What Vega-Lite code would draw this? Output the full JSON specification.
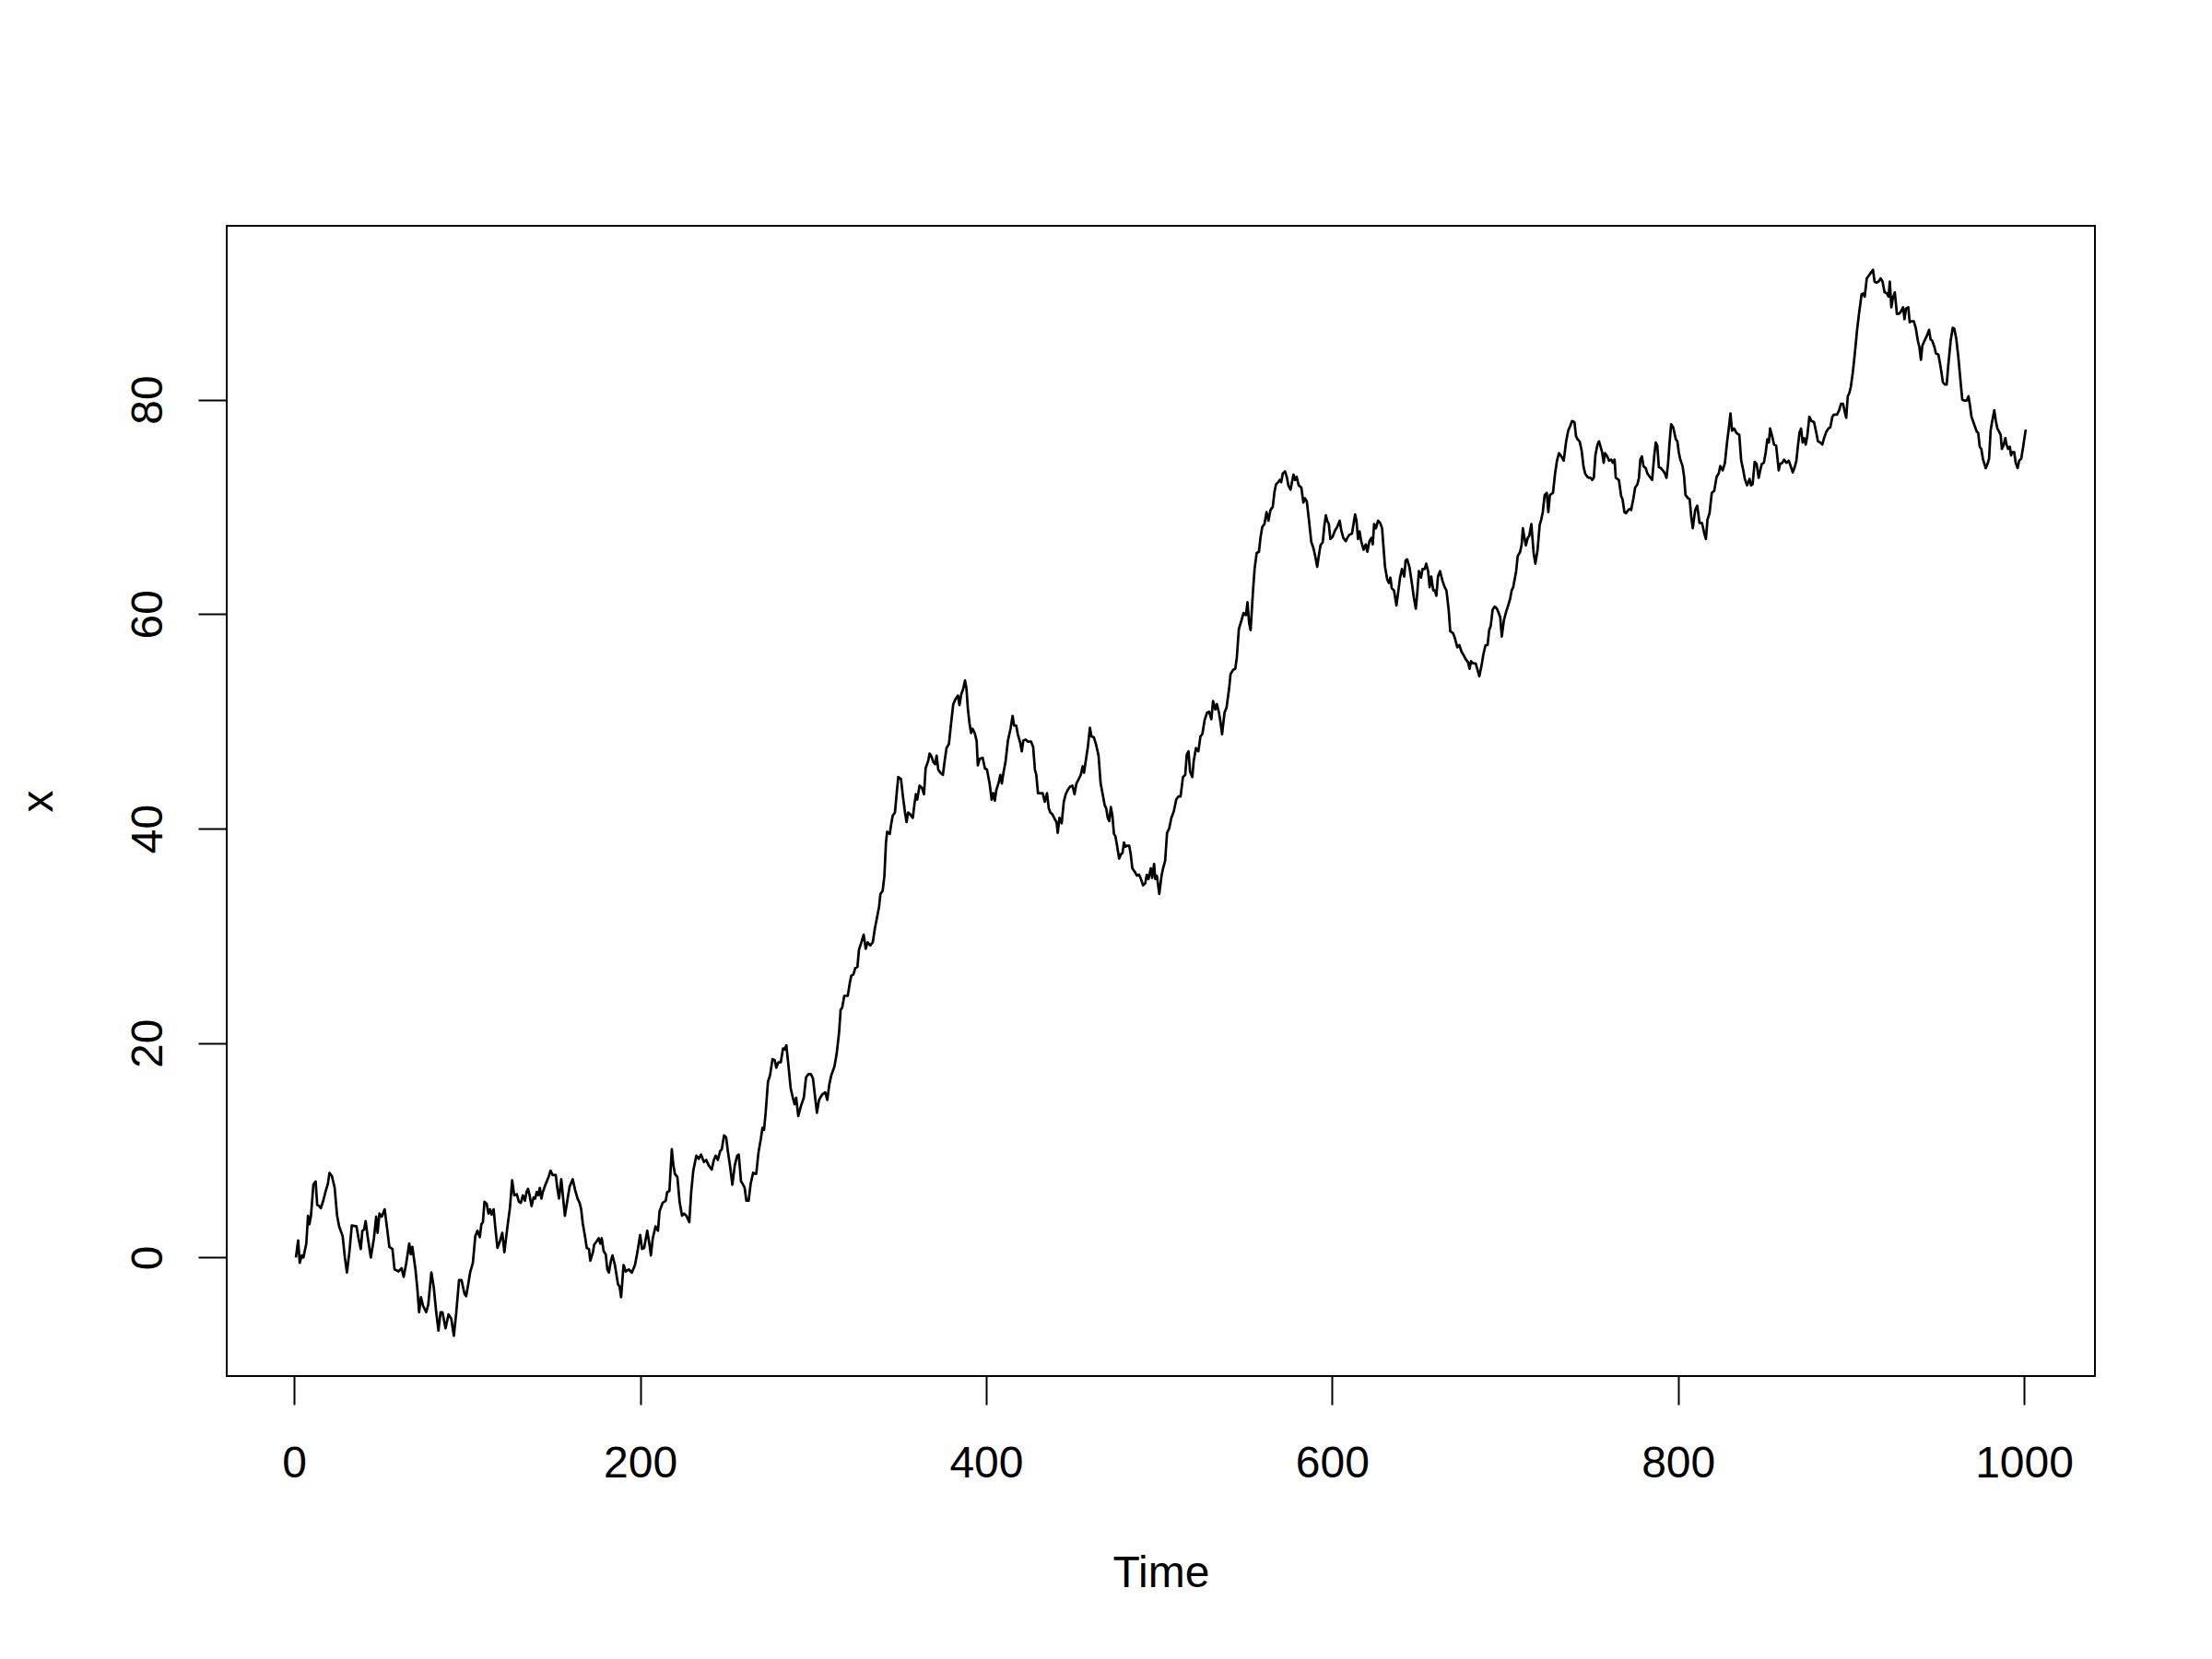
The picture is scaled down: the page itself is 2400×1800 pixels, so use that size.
{
  "$schema": "https://vega.github.io/schema/vega-lite/v6.json",
  "description": "Random walk time series x against Time, R base plot style",
  "width": 2027,
  "height": 1248,
  "autosize": {"type": "none"},
  "padding": {"left": 246, "top": 245, "right": 127, "bottom": 307},
  "background": "white",
  "config": {
    "font": "Liberation Sans",
    "view": {"stroke": "black", "strokeWidth": 2}
  },
  "data": {
    "values": [
      {"t":1,"x":0},{"t":2.3,"x":1.6},{"t":3.2,"x":-0.5},{"t":4.4,"x":0.2},{"t":5.3,"x":0.0},{"t":7,"x":1.3},{"t":8,"x":3.9},{"t":8.8,"x":3.1},{"t":9.7,"x":3.9},{"t":11.1,"x":6.8},
      {"t":12.4,"x":7.1},{"t":13.3,"x":4.9},{"t":14.5,"x":4.8},{"t":15.4,"x":4.6},{"t":16.8,"x":5.3},{"t":18.2,"x":6.2},{"t":19.5,"x":6.9},{"t":20.4,"x":7.9},{"t":21.8,"x":7.6},{"t":23.4,"x":6.5},
      {"t":24.8,"x":3.9},{"t":26,"x":2.9},{"t":28,"x":2.0},{"t":29.3,"x":0.0},{"t":30.5,"x":-1.4},{"t":31.9,"x":0.5},{"t":33.3,"x":3.0},{"t":36,"x":2.9},{"t":37.2,"x":1.8},{"t":38.5,"x":0.8},
      {"t":39.4,"x":2.5},{"t":40.4,"x":2.6},{"t":41.3,"x":3.4},{"t":42.6,"x":1.8},{"t":44.3,"x":0.0},{"t":46.1,"x":1.8},{"t":47.4,"x":3.8},{"t":48.2,"x":2.3},{"t":49.3,"x":4.1},{"t":50.6,"x":3.8},
      {"t":52.3,"x":4.5},{"t":53.8,"x":2.6},{"t":55,"x":1.0},{"t":56.8,"x":0.8},{"t":58,"x":-1.1},{"t":60.3,"x":-1.3},{"t":62.1,"x":-1.0},{"t":63.3,"x":-1.8},{"t":64.8,"x":-0.5},{"t":66.5,"x":1.3},
      {"t":67.4,"x":0.3},{"t":68.3,"x":1.0},{"t":70.1,"x":-1.1},{"t":71.3,"x":-3.1},{"t":72.2,"x":-5.1},{"t":73.3,"x":-3.7},{"t":74.5,"x":-4.5},{"t":76.3,"x":-5.1},{"t":77.5,"x":-4.4},{"t":79.3,"x":-1.4},
      {"t":80.7,"x":-2.8},{"t":82.1,"x":-5.1},{"t":83.4,"x":-6.8},{"t":84.6,"x":-5.1},{"t":85.7,"x":-5.1},{"t":87.5,"x":-6.6},{"t":89.2,"x":-5.3},{"t":90.8,"x":-5.7},{"t":92.3,"x":-7.3},{"t":93.7,"x":-5.1},
      {"t":95.3,"x":-2.1},{"t":96.7,"x":-2.1},{"t":98.5,"x":-3.4},{"t":99.4,"x":-3.6},{"t":100.6,"x":-2.5},{"t":101.7,"x":-1.4},{"t":103.3,"x":-0.5},{"t":104.7,"x":2.0},{"t":105.9,"x":2.5},{"t":107.3,"x":1.9},
      {"t":108.2,"x":3.1},{"t":109.1,"x":3.3},{"t":110,"x":5.2},{"t":111.3,"x":5.0},{"t":112.3,"x":4.1},{"t":113.2,"x":4.5},{"t":114.1,"x":4.0},{"t":115.3,"x":4.5},{"t":116.2,"x":2.9},{"t":117.5,"x":0.9},
      {"t":118.9,"x":1.5},{"t":120.3,"x":2.3},{"t":121.5,"x":0.5},{"t":123.3,"x":2.9},{"t":124.7,"x":4.6},{"t":126,"x":7.2},{"t":127.2,"x":5.8},{"t":128.7,"x":5.9},{"t":129.9,"x":5.2},{"t":131,"x":5.1},
      {"t":132.2,"x":5.8},{"t":133.4,"x":5.3},{"t":134.3,"x":6.1},{"t":135.2,"x":6.4},{"t":136.1,"x":5.8},{"t":137.2,"x":4.8},{"t":138.4,"x":5.6},{"t":139.3,"x":5.5},{"t":140.2,"x":6.1},{"t":141.1,"x":5.8},
      {"t":142,"x":6.5},{"t":142.9,"x":5.5},{"t":143.7,"x":6.1},{"t":145.5,"x":6.9},{"t":146.8,"x":7.4},{"t":148.2,"x":8.1},{"t":149.4,"x":7.7},{"t":151.2,"x":7.7},{"t":152.1,"x":6.5},{"t":153.1,"x":5.5},
      {"t":154.4,"x":7.3},{"t":155.3,"x":5.8},{"t":156.5,"x":3.9},{"t":157.9,"x":5.3},{"t":159.2,"x":6.6},{"t":161,"x":7.3},{"t":162.4,"x":6.3},{"t":163.8,"x":5.5},{"t":165,"x":5.1},{"t":165.9,"x":4.5},
      {"t":166.8,"x":3.2},{"t":168.1,"x":2.0},{"t":169.1,"x":0.9},{"t":170.4,"x":0.8},{"t":171.2,"x":-0.3},{"t":172.7,"x":0.5},{"t":173.4,"x":1.2},{"t":174.8,"x":1.5},{"t":176,"x":1.8},{"t":177,"x":1.3},
      {"t":177.8,"x":1.8},{"t":178.9,"x":0.6},{"t":180.1,"x":0.3},{"t":181,"x":-1.1},{"t":181.9,"x":-1.4},{"t":183.1,"x":-0.3},{"t":184,"x":0.2},{"t":185.4,"x":-0.7},{"t":187.2,"x":-2.5},{"t":188.1,"x":-2.7},
      {"t":189,"x":-3.7},{"t":190.4,"x":-0.7},{"t":191.7,"x":-1.3},{"t":193.4,"x":-1.1},{"t":195.2,"x":-1.4},{"t":197,"x":-0.7},{"t":198.4,"x":0.5},{"t":200,"x":2.1},{"t":201.1,"x":0.8},{"t":202.3,"x":0.9},
      {"t":204.1,"x":2.5},{"t":205.4,"x":1.2},{"t":206.2,"x":0.2},{"t":207.3,"x":1.8},{"t":208.9,"x":2.9},{"t":210.3,"x":2.5},{"t":211.2,"x":4.3},{"t":213,"x":5.1},{"t":214.8,"x":5.3},{"t":215.6,"x":6.1},
      {"t":216.9,"x":6.2},{"t":218.3,"x":10.1},{"t":219.2,"x":8.6},{"t":220.1,"x":7.8},{"t":221.5,"x":7.5},{"t":222.8,"x":5.2},{"t":224.2,"x":3.9},{"t":225.4,"x":4.1},{"t":226.7,"x":3.9},{"t":228.4,"x":3.3},
      {"t":229.5,"x":6.1},{"t":230.7,"x":8.1},{"t":232.5,"x":9.5},{"t":233.9,"x":9.2},{"t":235.2,"x":9.6},{"t":236.9,"x":8.9},{"t":238.2,"x":9.1},{"t":239.6,"x":8.6},{"t":241.4,"x":8.2},{"t":242.6,"x":9.1},
      {"t":243.7,"x":9.5},{"t":244.9,"x":9.1},{"t":246.2,"x":9.9},{"t":247.2,"x":10.1},{"t":248.5,"x":11.4},{"t":249.7,"x":11.2},{"t":250.8,"x":9.8},{"t":252,"x":8.5},{"t":253.3,"x":6.8},{"t":254.7,"x":8.6},
      {"t":256.1,"x":9.5},{"t":257,"x":9.6},{"t":258.3,"x":7.1},{"t":259.5,"x":6.8},{"t":260.4,"x":6.5},{"t":261.4,"x":5.3},{"t":262.7,"x":5.3},{"t":263.9,"x":6.9},{"t":265.3,"x":7.9},{"t":267.1,"x":7.8},
      {"t":268.4,"x":9.8},{"t":269.8,"x":11.1},{"t":270.7,"x":12.1},{"t":271.6,"x":11.9},{"t":272.5,"x":13.4},{"t":273.9,"x":16.4},{"t":275.1,"x":17.0},{"t":276.5,"x":18.5},{"t":277.8,"x":18.4},{"t":278.7,"x":17.7},
      {"t":279.9,"x":18.2},{"t":281.3,"x":18.2},{"t":282.6,"x":19.5},{"t":283.6,"x":19.4},{"t":284.5,"x":19.8},{"t":285.8,"x":17.8},{"t":287,"x":15.8},{"t":288.4,"x":14.8},{"t":289.3,"x":14.3},{"t":290.2,"x":14.9},
      {"t":291.4,"x":13.2},{"t":292.9,"x":14.1},{"t":294.6,"x":14.9},{"t":295.9,"x":16.8},{"t":297.3,"x":17.1},{"t":298.7,"x":17.1},{"t":299.9,"x":16.7},{"t":301.1,"x":15.0},{"t":302.2,"x":13.5},{"t":303.4,"x":14.7},
      {"t":305.2,"x":15.2},{"t":307,"x":15.4},{"t":308.2,"x":14.7},{"t":309.3,"x":16.1},{"t":310.5,"x":17.0},{"t":312.3,"x":17.8},{"t":313.6,"x":19.0},{"t":315,"x":21.0},{"t":315.9,"x":23.1},{"t":316.8,"x":23.3},
      {"t":318,"x":24.4},{"t":320,"x":24.4},{"t":321.2,"x":25.6},{"t":322.1,"x":26.3},{"t":323.3,"x":26.4},{"t":324.4,"x":27.0},{"t":325.6,"x":27.1},{"t":326.5,"x":28.7},{"t":327.9,"x":29.4},{"t":329.2,"x":30.1},
      {"t":330.4,"x":28.8},{"t":331.5,"x":29.4},{"t":333.1,"x":29.1},{"t":334.5,"x":29.4},{"t":335.7,"x":30.7},{"t":336.8,"x":31.6},{"t":338.1,"x":32.7},{"t":338.9,"x":33.9},{"t":340.2,"x":34.2},{"t":341.2,"x":35.6},
      {"t":342.1,"x":38.7},{"t":342.8,"x":39.7},{"t":344.3,"x":39.5},{"t":345.2,"x":40.5},{"t":346,"x":41.2},{"t":347.3,"x":41.5},{"t":348.3,"x":43.3},{"t":349.2,"x":44.8},{"t":350.8,"x":44.6},{"t":351.9,"x":43.0},
      {"t":353.1,"x":41.5},{"t":354,"x":40.6},{"t":354.9,"x":41.5},{"t":356.2,"x":41.3},{"t":357.6,"x":41.0},{"t":358.5,"x":42.2},{"t":359.4,"x":43.2},{"t":360.2,"x":42.7},{"t":361.5,"x":44.0},{"t":362.9,"x":43.8},
      {"t":364.1,"x":43.2},{"t":365,"x":45.6},{"t":366.5,"x":46.3},{"t":367.3,"x":47.0},{"t":368.2,"x":46.8},{"t":369.5,"x":46.2},{"t":370.5,"x":46.0},{"t":371.4,"x":46.8},{"t":372.3,"x":45.5},{"t":373.6,"x":45.2},
      {"t":375,"x":45.0},{"t":376.2,"x":46.5},{"t":377.1,"x":47.5},{"t":378.5,"x":47.9},{"t":379.8,"x":49.9},{"t":381,"x":51.6},{"t":382.4,"x":52.1},{"t":383.7,"x":52.4},{"t":384.6,"x":51.5},{"t":385.6,"x":52.5},
      {"t":386.7,"x":53.0},{"t":387.8,"x":53.8},{"t":388.6,"x":53.1},{"t":389.5,"x":51.1},{"t":390.4,"x":49.8},{"t":391.3,"x":48.9},{"t":392.2,"x":49.3},{"t":393.4,"x":48.9},{"t":394.5,"x":48.2},{"t":395.2,"x":45.9},
      {"t":396.3,"x":46.5},{"t":398,"x":46.6},{"t":399.3,"x":45.6},{"t":400.5,"x":45.5},{"t":402,"x":44.2},{"t":403.2,"x":42.7},{"t":404.1,"x":43.3},{"t":405,"x":42.6},{"t":405.9,"x":43.6},{"t":407.3,"x":44.3},
      {"t":408.2,"x":45.0},{"t":409.1,"x":44.2},{"t":410,"x":45.2},{"t":411.2,"x":46.2},{"t":412.6,"x":48.2},{"t":414.1,"x":49.3},{"t":415.3,"x":50.5},{"t":416.2,"x":49.6},{"t":417.4,"x":49.6},{"t":418.3,"x":48.8},
      {"t":419.7,"x":48.0},{"t":420.6,"x":47.2},{"t":421.5,"x":48.2},{"t":422.9,"x":48.3},{"t":424.2,"x":48.1},{"t":426,"x":48.1},{"t":427.2,"x":47.6},{"t":428.2,"x":45.5},{"t":429,"x":45.0},{"t":430,"x":43.3},
      {"t":431.3,"x":43.3},{"t":432.7,"x":43.3},{"t":433.9,"x":42.5},{"t":435.2,"x":43.3},{"t":436.2,"x":41.9},{"t":437.1,"x":41.5},{"t":438.4,"x":41.3},{"t":439.6,"x":40.9},{"t":440.7,"x":40.6},{"t":441.4,"x":39.6},
      {"t":442.4,"x":41.0},{"t":443.7,"x":40.5},{"t":444.9,"x":42.5},{"t":446,"x":43.2},{"t":447.2,"x":43.6},{"t":448.5,"x":43.9},{"t":449.9,"x":44.0},{"t":451.1,"x":43.2},{"t":452.2,"x":44.2},{"t":453.5,"x":44.6},
      {"t":454.7,"x":45.0},{"t":455.8,"x":45.8},{"t":456.6,"x":45.2},{"t":457.5,"x":46.2},{"t":458.8,"x":47.6},{"t":460,"x":49.4},{"t":460.9,"x":48.6},{"t":462.3,"x":48.5},{"t":463.6,"x":47.8},{"t":465,"x":46.8},
      {"t":466.2,"x":44.2},{"t":467.6,"x":43.0},{"t":468.5,"x":42.2},{"t":469.4,"x":41.9},{"t":470.3,"x":41.0},{"t":471.2,"x":40.7},{"t":472.1,"x":42.0},{"t":473,"x":41.2},{"t":473.9,"x":39.5},{"t":474.7,"x":39.3},
      {"t":475.6,"x":38.5},{"t":476.9,"x":37.2},{"t":477.9,"x":37.6},{"t":478.8,"x":37.7},{"t":479.7,"x":38.7},{"t":480.6,"x":38.3},{"t":481.5,"x":38.4},{"t":482.7,"x":38.4},{"t":483.6,"x":37.6},{"t":484.5,"x":36.3},
      {"t":485.8,"x":36.0},{"t":487.2,"x":35.6},{"t":488.4,"x":35.7},{"t":489.5,"x":35.3},{"t":490.7,"x":34.7},{"t":492,"x":34.9},{"t":492.9,"x":35.7},{"t":493.9,"x":35.3},{"t":495.2,"x":36.3},{"t":496,"x":35.4},
      {"t":497.1,"x":36.7},{"t":497.8,"x":35.3},{"t":498.7,"x":35.6},{"t":500.1,"x":33.9},{"t":501.4,"x":35.6},{"t":502.3,"x":36.3},{"t":503.5,"x":37.0},{"t":504.6,"x":39.6},{"t":505.8,"x":40.0},{"t":507.1,"x":41.0},
      {"t":508.5,"x":41.6},{"t":509.9,"x":42.7},{"t":511.2,"x":43.0},{"t":512.4,"x":43.0},{"t":513.8,"x":44.8},{"t":515.1,"x":45.0},{"t":516,"x":46.9},{"t":517,"x":47.2},{"t":517.9,"x":45.3},{"t":519.2,"x":44.8},
      {"t":520,"x":46.3},{"t":521.3,"x":47.5},{"t":522.7,"x":47.2},{"t":523.9,"x":48.6},{"t":525,"x":48.8},{"t":526.3,"x":50.1},{"t":527.7,"x":50.8},{"t":528.9,"x":50.9},{"t":530.2,"x":50.2},{"t":531.2,"x":51.9},
      {"t":532.5,"x":51.1},{"t":533.4,"x":51.6},{"t":534.6,"x":50.8},{"t":535.5,"x":49.9},{"t":536.4,"x":48.8},{"t":537.8,"x":50.8},{"t":539,"x":51.3},{"t":540.5,"x":53.1},{"t":541.3,"x":54.4},{"t":542.8,"x":54.8},
      {"t":544,"x":54.9},{"t":544.9,"x":55.9},{"t":546.1,"x":58.6},{"t":547.6,"x":59.4},{"t":548.8,"x":60.1},{"t":550.2,"x":59.9},{"t":551.1,"x":61.1},{"t":552,"x":59.2},{"t":552.9,"x":58.5},{"t":554.3,"x":62.2},
      {"t":555.2,"x":64.2},{"t":556.4,"x":65.7},{"t":557.7,"x":65.8},{"t":558.6,"x":67.1},{"t":559.6,"x":68.1},{"t":560.9,"x":68.4},{"t":562.1,"x":69.5},{"t":563.2,"x":68.7},{"t":564.4,"x":69.7},{"t":565.7,"x":70.0},
      {"t":566.7,"x":71.4},{"t":567.6,"x":72.1},{"t":568.9,"x":72.3},{"t":569.7,"x":72.5},{"t":570.6,"x":72.3},{"t":571.5,"x":73.1},{"t":572.8,"x":73.3},{"t":573.8,"x":72.8},{"t":574.7,"x":72.0},{"t":576,"x":71.6},
      {"t":576.8,"x":72.3},{"t":577.7,"x":73.0},{"t":578.6,"x":72.5},{"t":579.5,"x":72.8},{"t":580.7,"x":72.0},{"t":582.2,"x":71.8},{"t":583.4,"x":70.4},{"t":584.3,"x":70.8},{"t":585.4,"x":70.5},{"t":586.6,"x":68.8},
      {"t":588,"x":66.7},{"t":589.3,"x":66.1},{"t":590.5,"x":65.2},{"t":591.4,"x":64.4},{"t":592.3,"x":65.4},{"t":593.3,"x":66.4},{"t":594.6,"x":66.7},{"t":595.5,"x":68.2},{"t":596.4,"x":69.2},{"t":597.2,"x":68.7},
      {"t":598.1,"x":68.4},{"t":599,"x":67.0},{"t":600.3,"x":67.2},{"t":601.7,"x":67.8},{"t":602.9,"x":68.1},{"t":604.4,"x":68.7},{"t":605.3,"x":67.8},{"t":606.5,"x":67.1},{"t":607.9,"x":66.8},{"t":608.8,"x":67.1},
      {"t":610,"x":67.4},{"t":611.5,"x":67.5},{"t":612.4,"x":68.4},{"t":613.3,"x":69.3},{"t":614.1,"x":68.7},{"t":615,"x":67.0},{"t":615.9,"x":67.7},{"t":616.8,"x":66.8},{"t":618.2,"x":66.0},{"t":619.5,"x":66.5},
      {"t":620.4,"x":65.8},{"t":621.6,"x":66.8},{"t":622.7,"x":67.1},{"t":623.5,"x":66.5},{"t":624.3,"x":68.4},{"t":625.3,"x":68.0},{"t":626.6,"x":68.7},{"t":627.8,"x":68.5},{"t":628.9,"x":68.0},{"t":629.6,"x":66.5},
      {"t":630.6,"x":64.4},{"t":631.9,"x":63.2},{"t":632.8,"x":62.9},{"t":633.7,"x":63.4},{"t":634.5,"x":62.4},{"t":635.8,"x":62.2},{"t":637.2,"x":60.8},{"t":638.1,"x":61.9},{"t":639.3,"x":63.4},{"t":640.4,"x":64.2},
      {"t":641.7,"x":63.5},{"t":642.5,"x":65.0},{"t":643.4,"x":65.1},{"t":644.7,"x":64.4},{"t":646.1,"x":62.9},{"t":647.3,"x":61.5},{"t":648.4,"x":60.5},{"t":649.3,"x":62.1},{"t":650.2,"x":64.0},{"t":651.4,"x":63.4},
      {"t":652.3,"x":64.2},{"t":653.5,"x":64.2},{"t":654.4,"x":64.7},{"t":655.5,"x":64.0},{"t":656.4,"x":62.5},{"t":657.3,"x":63.5},{"t":658.5,"x":62.2},{"t":659.4,"x":62.2},{"t":660.3,"x":61.7},{"t":661.2,"x":63.5},
      {"t":662.4,"x":64.0},{"t":663.8,"x":63.1},{"t":665.1,"x":62.5},{"t":666.1,"x":62.2},{"t":667.4,"x":60.4},{"t":668.3,"x":58.4},{"t":670,"x":58.2},{"t":670.9,"x":57.8},{"t":672.4,"x":56.9},{"t":673.6,"x":57.1},
      {"t":674.8,"x":56.5},{"t":675.9,"x":56.2},{"t":677.2,"x":55.8},{"t":678.6,"x":55.5},{"t":679.5,"x":54.9},{"t":680.3,"x":55.6},{"t":681.6,"x":55.4},{"t":683,"x":55.4},{"t":683.9,"x":54.9},{"t":685.1,"x":54.2},
      {"t":686.4,"x":55.2},{"t":687.4,"x":56.2},{"t":688.7,"x":57.1},{"t":689.9,"x":57.1},{"t":690.8,"x":58.5},{"t":691.7,"x":58.9},{"t":692.8,"x":60.4},{"t":694,"x":60.7},{"t":695.3,"x":60.5},{"t":696.3,"x":60.1},
      {"t":697.2,"x":59.7},{"t":698.1,"x":57.9},{"t":699.3,"x":59.4},{"t":700.6,"x":60.2},{"t":701.6,"x":60.7},{"t":702.9,"x":61.4},{"t":703.8,"x":62.2},{"t":704.7,"x":62.5},{"t":706.4,"x":64.0},{"t":707.3,"x":65.4},
      {"t":708.7,"x":65.8},{"t":709.6,"x":66.5},{"t":710.3,"x":68.0},{"t":711.2,"x":67.1},{"t":712,"x":66.4},{"t":713.1,"x":67.1},{"t":714,"x":67.3},{"t":715.2,"x":68.4},{"t":716.5,"x":65.7},{"t":717.5,"x":64.7},
      {"t":718.8,"x":66.0},{"t":720,"x":68.3},{"t":720.9,"x":68.8},{"t":721.8,"x":69.5},{"t":722.9,"x":71.1},{"t":724.1,"x":71.3},{"t":725,"x":69.5},{"t":725.9,"x":71.1},{"t":727.7,"x":71.3},{"t":728.9,"x":73.1},
      {"t":730,"x":74.3},{"t":731.2,"x":75.0},{"t":732.5,"x":74.7},{"t":733.9,"x":74.3},{"t":735.3,"x":76.1},{"t":736.5,"x":77.1},{"t":737.8,"x":77.6},{"t":738.7,"x":78.0},{"t":740.1,"x":77.9},{"t":741,"x":76.6},
      {"t":741.9,"x":76.3},{"t":743.1,"x":76.1},{"t":744.2,"x":75.3},{"t":745.4,"x":73.7},{"t":746.3,"x":73.1},{"t":747.5,"x":72.8},{"t":748.6,"x":72.7},{"t":749.5,"x":72.7},{"t":750.4,"x":72.5},{"t":751.3,"x":72.7},
      {"t":752.2,"x":74.8},{"t":753.4,"x":75.8},{"t":754.3,"x":76.1},{"t":755.2,"x":75.6},{"t":756.1,"x":75.1},{"t":757,"x":74.1},{"t":757.8,"x":75.0},{"t":759.1,"x":74.7},{"t":760.1,"x":74.3},{"t":761.4,"x":74.4},
      {"t":762.3,"x":74.1},{"t":763.3,"x":74.4},{"t":764,"x":72.7},{"t":765.8,"x":72.5},{"t":767.1,"x":71.0},{"t":767.9,"x":70.7},{"t":769,"x":69.5},{"t":769.9,"x":69.4},{"t":771.2,"x":69.7},{"t":772,"x":69.8},
      {"t":772.9,"x":69.7},{"t":774.2,"x":70.8},{"t":775.2,"x":71.8},{"t":776.5,"x":72.1},{"t":777.4,"x":72.7},{"t":778.2,"x":74.4},{"t":779.1,"x":74.7},{"t":780,"x":73.8},{"t":781.3,"x":73.6},{"t":782.3,"x":73.1},
      {"t":783.6,"x":72.8},{"t":785,"x":72.5},{"t":786.2,"x":74.7},{"t":787.1,"x":76.0},{"t":788,"x":75.7},{"t":788.9,"x":73.7},{"t":790.1,"x":73.6},{"t":791.2,"x":73.4},{"t":792.4,"x":73.1},{"t":793.3,"x":72.7},
      {"t":794.2,"x":74.0},{"t":795.1,"x":76.0},{"t":796,"x":77.7},{"t":797.2,"x":77.4},{"t":798.7,"x":76.3},{"t":799.6,"x":76.1},{"t":800.4,"x":75.1},{"t":801.3,"x":74.4},{"t":802.6,"x":73.8},{"t":803.5,"x":72.8},
      {"t":804.3,"x":71.1},{"t":805.8,"x":70.8},{"t":806.7,"x":70.7},{"t":807.6,"x":69.1},{"t":808.5,"x":68.0},{"t":809.9,"x":69.7},{"t":811.1,"x":70.1},{"t":812.4,"x":68.5},{"t":813.8,"x":68.5},{"t":815.2,"x":67.5},
      {"t":816.1,"x":67.0},{"t":817,"x":68.8},{"t":818.2,"x":69.4},{"t":819.5,"x":71.3},{"t":820.9,"x":71.5},{"t":822.3,"x":72.8},{"t":823.5,"x":73.1},{"t":824.4,"x":73.8},{"t":825.8,"x":73.4},{"t":827.1,"x":74.1},
      {"t":828.3,"x":76.0},{"t":829.4,"x":77.4},{"t":830.3,"x":78.7},{"t":831.2,"x":77.1},{"t":832.4,"x":77.3},{"t":833.7,"x":76.9},{"t":835.4,"x":76.7},{"t":836.5,"x":74.3},{"t":837.7,"x":73.4},{"t":838.6,"x":72.6},
      {"t":839.9,"x":72.0},{"t":841.3,"x":72.6},{"t":842.2,"x":72.0},{"t":843.1,"x":72.1},{"t":844.3,"x":74.2},{"t":845.4,"x":74.0},{"t":846.6,"x":72.7},{"t":847.5,"x":73.4},{"t":848.4,"x":74.0},{"t":849.6,"x":74.1},
      {"t":850.7,"x":75.1},{"t":851.6,"x":76.3},{"t":852.5,"x":76.0},{"t":853.2,"x":77.3},{"t":854.2,"x":76.7},{"t":855.5,"x":75.8},{"t":856.7,"x":75.7},{"t":858.2,"x":73.4},{"t":859,"x":74.0},{"t":860.3,"x":74.1},
      {"t":861.3,"x":74.4},{"t":862.6,"x":74.1},{"t":864,"x":74.3},{"t":865.3,"x":73.7},{"t":866.3,"x":73.2},{"t":867.4,"x":73.7},{"t":868.4,"x":74.3},{"t":869.3,"x":75.7},{"t":870.2,"x":76.9},{"t":871.1,"x":77.3},
      {"t":872,"x":76.0},{"t":872.9,"x":76.4},{"t":873.8,"x":75.8},{"t":874.7,"x":76.6},{"t":875.9,"x":78.4},{"t":877.1,"x":78.0},{"t":878.6,"x":77.9},{"t":879.8,"x":77.0},{"t":880.9,"x":76.1},{"t":882.1,"x":76.0},
      {"t":883.4,"x":75.8},{"t":884.4,"x":76.4},{"t":885.7,"x":77.0},{"t":886.9,"x":77.3},{"t":888,"x":77.4},{"t":889.2,"x":78.4},{"t":890.1,"x":78.6},{"t":891.9,"x":78.6},{"t":893.1,"x":79.0},{"t":894.2,"x":79.6},
      {"t":895.4,"x":79.6},{"t":896.3,"x":78.9},{"t":897.2,"x":78.3},{"t":898.1,"x":80.3},{"t":899,"x":80.6},{"t":899.9,"x":81.2},{"t":901,"x":82.5},{"t":902.2,"x":84.3},{"t":903.5,"x":86.5},{"t":904.6,"x":88.0},
      {"t":906.1,"x":89.8},{"t":907,"x":89.9},{"t":907.9,"x":89.6},{"t":909.1,"x":91.3},{"t":910.5,"x":91.6},{"t":911.8,"x":91.9},{"t":912.7,"x":92.1},{"t":913.6,"x":91.0},{"t":914.6,"x":90.9},{"t":915.9,"x":91.0},
      {"t":917.1,"x":91.3},{"t":918.2,"x":91.0},{"t":919.4,"x":90.0},{"t":920.7,"x":89.9},{"t":921.7,"x":89.6},{"t":922.4,"x":91.0},{"t":923.3,"x":88.6},{"t":924.2,"x":89.5},{"t":925.3,"x":90.0},{"t":926.5,"x":88.0},
      {"t":927.8,"x":88.0},{"t":928.8,"x":88.2},{"t":930.1,"x":88.6},{"t":930.9,"x":87.5},{"t":931.8,"x":88.5},{"t":933.1,"x":88.6},{"t":933.9,"x":87.2},{"t":934.9,"x":87.3},{"t":936.3,"x":87.3},{"t":937.5,"x":86.6},
      {"t":938.6,"x":85.5},{"t":939.5,"x":84.9},{"t":940.4,"x":83.7},{"t":941.2,"x":85.0},{"t":942.5,"x":85.5},{"t":943.7,"x":85.9},{"t":945.1,"x":86.5},{"t":946,"x":85.6},{"t":946.9,"x":85.5},{"t":948.2,"x":84.9},
      {"t":949.1,"x":84.3},{"t":950.5,"x":84.2},{"t":951.4,"x":83.4},{"t":952.2,"x":82.6},{"t":953.1,"x":81.6},{"t":954.4,"x":81.4},{"t":955.3,"x":81.4},{"t":956.2,"x":83.2},{"t":957.6,"x":85.5},{"t":958.8,"x":86.7},
      {"t":959.7,"x":86.6},{"t":960.8,"x":85.7},{"t":962,"x":84.0},{"t":963.3,"x":81.7},{"t":964.3,"x":80.0},{"t":965.6,"x":79.9},{"t":966.8,"x":79.9},{"t":967.9,"x":80.3},{"t":968.8,"x":79.4},{"t":969.6,"x":78.4},
      {"t":970.5,"x":78.0},{"t":971.8,"x":77.4},{"t":972.7,"x":77.0},{"t":973.5,"x":76.9},{"t":974.4,"x":75.6},{"t":975.3,"x":75.4},{"t":976.2,"x":74.5},{"t":977.1,"x":74.0},{"t":977.9,"x":73.6},{"t":978.9,"x":74.0},
      {"t":979.8,"x":74.5},{"t":980.7,"x":77.1},{"t":981.5,"x":77.9},{"t":982.8,"x":79.0},{"t":983.7,"x":78.0},{"t":984.6,"x":77.3},{"t":985.6,"x":77.0},{"t":986.5,"x":76.7},{"t":987.2,"x":75.4},{"t":988.1,"x":75.7},
      {"t":989.2,"x":76.4},{"t":989.9,"x":75.8},{"t":990.8,"x":75.4},{"t":991.8,"x":75.6},{"t":992.5,"x":74.8},{"t":993.1,"x":75.1},{"t":994.3,"x":75.1},{"t":995.2,"x":74.1},{"t":996.3,"x":73.6},{"t":997.2,"x":74.3},
      {"t":998.4,"x":74.5},{"t":999.6,"x":75.7},{"t":1000.4,"x":76.6},{"t":1001,"x":77.2}
    ]
  },
  "mark": {"type": "line", "color": "black", "strokeWidth": 2.7, "strokeJoin": "round"},
  "encoding": {
    "x": {
      "field": "t",
      "type": "quantitative",
      "scale": {"domain": [-39, 1041], "nice": false, "zero": false},
      "axis": {
        "title": "Time",
        "values": [0, 200, 400, 600, 800, 1000],
        "format": "d",
        "grid": false,
        "domain": false,
        "tickColor": "black",
        "tickSize": 31,
        "tickWidth": 2,
        "labelFont": "Liberation Sans",
        "labelFontSize": 48,
        "labelColor": "black",
        "labelPadding": 40,
        "labelFlush": false,
        "labelOverlap": false,
        "titleFont": "Liberation Sans",
        "titleFontSize": 48,
        "titleFontWeight": "normal",
        "titleColor": "black",
        "titleBaseline": "alphabetic",
        "titleY": 228
      }
    },
    "y": {
      "field": "x",
      "type": "quantitative",
      "scale": {"domain": [-11.05, 96.2], "nice": false, "zero": false},
      "axis": {
        "title": "x",
        "values": [0, 20, 40, 60, 80],
        "format": "d",
        "grid": false,
        "domain": false,
        "tickColor": "black",
        "tickSize": 31,
        "tickWidth": 2,
        "labelFont": "Liberation Sans",
        "labelFontSize": 48,
        "labelColor": "black",
        "labelAngle": -90,
        "labelAlign": "center",
        "labelBaseline": "alphabetic",
        "labelPadding": 40,
        "labelFlush": false,
        "labelOverlap": false,
        "titleFont": "Liberation Sans",
        "titleFontSize": 48,
        "titleFontWeight": "normal",
        "titleColor": "black",
        "titleAngle": -90,
        "titleAlign": "center",
        "titleBaseline": "alphabetic",
        "titleX": -190,
        "titleY": 624
      }
    }
  }
}
